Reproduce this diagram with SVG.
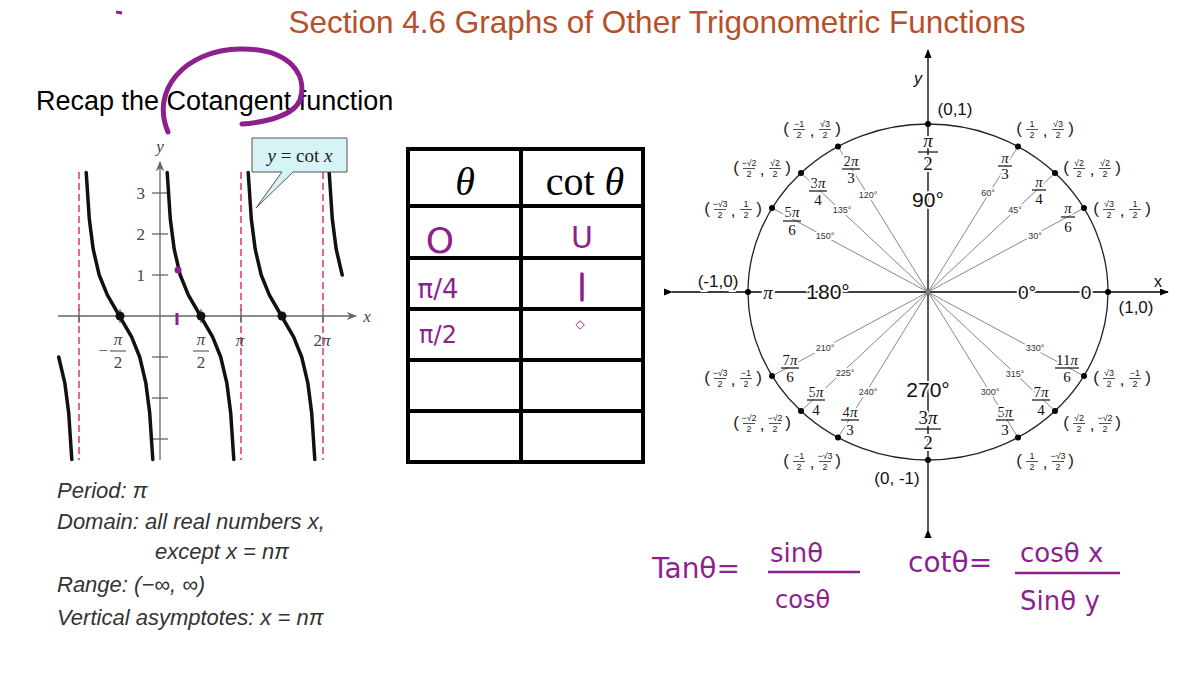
<svg xmlns="http://www.w3.org/2000/svg" width="1190" height="676" viewBox="0 0 1190 676">
<defs>
<marker id="ar" viewBox="0 0 10 10" refX="9" refY="5" markerWidth="7" markerHeight="7" orient="auto"><path d="M0,1 L10,5 L0,9 Z" fill="#000"/></marker>
<marker id="ag" viewBox="0 0 10 10" refX="9" refY="5" markerWidth="8" markerHeight="8" orient="auto"><path d="M0,1 L10,5 L0,9 L3,5 Z" fill="#666"/></marker>
</defs>
<style>
.s{font-family:"Liberation Sans",Arial,sans-serif}
.t{font-family:"Liberation Serif","Times New Roman",serif}
.pu{fill:#8e1f8e;font-family:"DejaVu Sans",sans-serif}
.cur{fill:none;stroke:#111;stroke-width:3.5;stroke-linejoin:round;stroke-linecap:round}
.asy{stroke:#e0307a;stroke-width:1.5;stroke-dasharray:7,4}
.tk{stroke:#666;stroke-width:1.3}
.sp{stroke:#888;stroke-width:1}
.h{paint-order:stroke;stroke:#fff;stroke-width:4}
.tb{stroke:#000;stroke-width:4;fill:none}
.fr{font-family:"Liberation Serif",serif;font-size:19px;text-anchor:middle;fill:#111}
.dg{font-family:"Liberation Sans",sans-serif;font-size:9px;text-anchor:middle;fill:#333}
.it{font-family:"Liberation Sans",sans-serif;font-style:italic;font-size:22px;fill:#333}
.cl text{font-family:"Liberation Sans",sans-serif;text-anchor:middle;fill:#222}
.cl .p{font-size:17px}
.cl .n{font-size:9px}
.cl line{stroke:#222;stroke-width:0.8}
.fb{stroke:#111;stroke-width:1.2}
</style>
<rect width="1190" height="676" fill="#fff"/>
<text class="s" x="657" y="33" font-size="31.5" fill="#b5502a" text-anchor="middle">Section 4.6 Graphs of Other Trigonometric Functions</text>
<path d="M116,12 L122,13" stroke="#8e1f8e" stroke-width="3"/>
<text class="s" x="36" y="110" font-size="27" fill="#000">Recap the Cotangent function</text>
<path d="M168,132 C150,90 185,50 240,49 C290,48 308,75 300,100 C294,115 268,122 242,124" fill="none" stroke="#8e1f8e" stroke-width="5" stroke-linecap="round"/>

<g id="graph">
<line class="asy" x1="79" y1="172" x2="79" y2="460"/>
<line class="asy" x1="241" y1="172" x2="241" y2="460"/>
<line class="asy" x1="323" y1="172" x2="323" y2="460"/>
<line x1="58" y1="316" x2="356" y2="316" stroke="#666" stroke-width="1.3" marker-end="url(#ag)"/>
<line x1="160" y1="460" x2="160" y2="162" stroke="#666" stroke-width="1.3" marker-end="url(#ag)"/>
<g class="tk"><line x1="152" y1="193" x2="168" y2="193"/><line x1="152" y1="234" x2="168" y2="234"/><line x1="152" y1="275" x2="168" y2="275"/><line x1="152" y1="357" x2="168" y2="357"/><line x1="152" y1="398" x2="168" y2="398"/><line x1="152" y1="439" x2="168" y2="439"/>
<line x1="79" y1="309" x2="79" y2="323"/><line x1="120" y1="309" x2="120" y2="323"/><line x1="201" y1="309" x2="201" y2="323"/><line x1="241" y1="309" x2="241" y2="323"/><line x1="323" y1="309" x2="323" y2="323"/></g>
<g class="t" font-size="17" fill="#444">
<text x="145" y="199" text-anchor="end">3</text><text x="145" y="240" text-anchor="end">2</text><text x="145" y="281" text-anchor="end">1</text>
<text x="160" y="152" font-style="italic" text-anchor="middle">y</text><text x="367" y="322" font-style="italic" text-anchor="middle">x</text>
<text x="118" y="345" font-style="italic" text-anchor="middle">π</text><line x1="110" y1="351" x2="126" y2="351" stroke="#444"/><text x="118" y="368" text-anchor="middle">2</text><text x="103" y="356" text-anchor="middle">−</text>
<text x="201" y="345" font-style="italic" text-anchor="middle">π</text><line x1="193" y1="351" x2="209" y2="351" stroke="#444"/><text x="201" y="368" text-anchor="middle">2</text>
<text x="240" y="346" font-style="italic" text-anchor="middle">π</text>
<text x="322" y="346" text-anchor="middle">2<tspan font-style="italic">π</tspan></text>
</g>
<polyline class="cur" points="167.2,172.5 170.3,219 174.2,249.2 180.2,275 188.4,295.1 200.5,316 212.6,336.9 220.7,357 226.8,382.8 230.7,413 233.8,459.5"/>
<polyline class="cur" transform="translate(-81,0)" points="167.2,172.5 170.3,219 174.2,249.2 180.2,275 188.4,295.1 200.5,316 212.6,336.9 220.7,357 226.8,382.8 230.7,413 233.8,459.5"/>
<polyline class="cur" transform="translate(81,0)" points="167.2,172.5 170.3,219 174.2,249.2 180.2,275 188.4,295.1 200.5,316 212.6,336.9 220.7,357 226.8,382.8 230.7,413 233.8,459.5"/>
<polyline class="cur" points="329.2,172.5 332.3,219 336.2,249.2 342.2,275"/>
<polyline class="cur" points="58.7,357 64.8,382.8 68.7,413 71.8,459.5"/>
<circle cx="120" cy="316" r="4.5" fill="#111"/><circle cx="201" cy="316" r="4.5" fill="#111"/><circle cx="282" cy="316" r="4.5" fill="#111"/>
<circle cx="178" cy="270" r="3.5" fill="#8e1f8e"/><line x1="177" y1="313" x2="177" y2="325" stroke="#8e1f8e" stroke-width="3"/>
<path d="M252,138 H347 V172 H293 L256,208 L282,172 H252 Z" fill="#d6f3f6" stroke="#555" stroke-width="1"/>
<text class="t" x="300" y="162" font-size="19" text-anchor="middle" fill="#222"><tspan font-style="italic">y</tspan> = cot <tspan font-style="italic">x</tspan></text>
</g>

<g id="props" class="it">
<text x="57" y="498">Period: π</text>
<text x="57" y="529">Domain:  all real numbers x,</text>
<text x="155" y="559">except x = nπ</text>
<text x="57" y="592">Range:  (−∞, ∞)</text>
<text x="57" y="625">Vertical asymptotes:  x = nπ</text>
</g>

<g id="table">
<rect class="tb" x="408" y="149" width="235" height="313"/>
<line class="tb" x1="521" y1="149" x2="521" y2="462"/>
<line class="tb" x1="408" y1="206" x2="643" y2="206"/>
<line class="tb" x1="408" y1="258" x2="643" y2="258"/>
<line class="tb" x1="408" y1="309" x2="643" y2="309"/>
<line class="tb" x1="408" y1="360" x2="643" y2="360"/>
<line class="tb" x1="408" y1="411" x2="643" y2="411"/>
<text class="t" x="465" y="195" font-size="40" font-style="italic" text-anchor="middle">θ</text>
<text class="t" x="585" y="195" font-size="40" text-anchor="middle">cot <tspan font-style="italic">θ</tspan></text>
<text class="pu" x="440" y="253" font-size="36" text-anchor="middle">O</text>
<text class="pu" x="582" y="248" font-size="30" text-anchor="middle">U</text>
<text class="pu" x="438" y="298" font-size="26" text-anchor="middle">π/4</text>
<line x1="582" y1="274" x2="582" y2="300" stroke="#8e1f8e" stroke-width="3.5" stroke-linecap="round"/>
<text class="pu" x="438" y="343" font-size="24" text-anchor="middle">π/2</text>
<text class="pu" x="580" y="328" font-size="12" text-anchor="middle">◇</text>
</g>

<g id="unitcircle">
<line x1="672" y1="292" x2="1168" y2="292" stroke="#000" stroke-width="1.3" marker-end="url(#ar)" marker-start="url(#ar)"/>
<line x1="928" y1="530" x2="928" y2="50" stroke="#000" stroke-width="1.3" marker-end="url(#ar)" marker-start="url(#ar)"/>
<g class="sp">
<line x1="928" y1="292" x2="1084" y2="208"/><line x1="928" y1="292" x2="1055" y2="173"/><line x1="928" y1="292" x2="1018" y2="146.5"/>
<line x1="928" y1="292" x2="838" y2="146.5"/><line x1="928" y1="292" x2="801" y2="173"/><line x1="928" y1="292" x2="772" y2="208"/>
<line x1="928" y1="292" x2="772" y2="376"/><line x1="928" y1="292" x2="801" y2="411"/><line x1="928" y1="292" x2="838" y2="437.5"/>
<line x1="928" y1="292" x2="1018" y2="437.5"/><line x1="928" y1="292" x2="1055" y2="411"/><line x1="928" y1="292" x2="1084" y2="376"/>
</g>
<ellipse cx="928" cy="292" rx="180" ry="168" fill="none" stroke="#222" stroke-width="1.3"/>
<g fill="#000">
<circle cx="1108" cy="292" r="3"/><circle cx="1084" cy="208" r="3"/><circle cx="1055" cy="173" r="3"/><circle cx="1018" cy="146.5" r="3"/><circle cx="928" cy="124" r="3"/><circle cx="838" cy="146.5" r="3"/><circle cx="801" cy="173" r="3"/><circle cx="772" cy="208" r="3"/><circle cx="748" cy="292" r="3"/><circle cx="772" cy="376" r="3"/><circle cx="801" cy="411" r="3"/><circle cx="838" cy="437.5" r="3"/><circle cx="928" cy="460" r="3"/><circle cx="1018" cy="437.5" r="3"/><circle cx="1055" cy="411" r="3"/><circle cx="1084" cy="376" r="3"/>
</g>
<g class="s h" font-size="17" fill="#111" text-anchor="middle">
<text x="955" y="115">(0,1)</text><text x="718" y="287">(-1,0)</text><text x="1136" y="313">(1,0)</text><text x="897" y="484">(0, -1)</text>
<text x="918" y="84" font-style="italic" font-size="16">y</text><text x="1158" y="287" font-size="16">x</text>
<text x="928" y="207" font-size="21">90°</text><text x="828" y="299" font-size="21">180°</text><text x="1027" y="299" font-size="19">0°</text><text x="1086" y="299" font-size="19">0</text><text x="928" y="397" font-size="21">270°</text>
<text x="768" y="299" font-size="19" font-style="italic" class="t">π</text>
</g>
<g class="fr h">
<text x="928" y="147" font-style="italic">π</text><text x="928" y="170">2</text>
<text x="928" y="424"><tspan>3</tspan><tspan font-style="italic">π</tspan></text><text x="928" y="449">2</text>
<text x="851" y="166" font-size="15">2<tspan font-style="italic">π</tspan></text><text x="851" y="183" font-size="15">3</text>
<text x="818" y="188" font-size="15">3<tspan font-style="italic">π</tspan></text><text x="818" y="205" font-size="15">4</text>
<text x="792" y="217" font-size="15">5<tspan font-style="italic">π</tspan></text><text x="792" y="235" font-size="15">6</text>
<text x="1005" y="163" font-size="15" font-style="italic">π</text><text x="1005" y="179" font-size="15">3</text>
<text x="1039" y="187" font-size="15" font-style="italic">π</text><text x="1039" y="204" font-size="15">4</text>
<text x="1068" y="213" font-size="15" font-style="italic">π</text><text x="1068" y="232" font-size="15">6</text>
<text x="790" y="365" font-size="15">7<tspan font-style="italic">π</tspan></text><text x="790" y="382" font-size="15">6</text>
<text x="816" y="397" font-size="15">5<tspan font-style="italic">π</tspan></text><text x="816" y="415" font-size="15">4</text>
<text x="850" y="417" font-size="15">4<tspan font-style="italic">π</tspan></text><text x="850" y="435" font-size="15">3</text>
<text x="1005" y="417" font-size="15">5<tspan font-style="italic">π</tspan></text><text x="1005" y="435" font-size="15">3</text>
<text x="1041" y="397" font-size="15">7<tspan font-style="italic">π</tspan></text><text x="1041" y="415" font-size="15">4</text>
<text x="1067" y="365" font-size="15">11<tspan font-style="italic">π</tspan></text><text x="1067" y="382" font-size="15">6</text>
</g>
<g class="fb">
<line x1="918" y1="152" x2="938" y2="152"/><line x1="915" y1="429" x2="941" y2="429"/>
<line x1="842" y1="169" x2="860" y2="169"/><line x1="809" y1="191" x2="827" y2="191"/><line x1="783" y1="221" x2="801" y2="221"/>
<line x1="998" y1="166" x2="1012" y2="166"/><line x1="1032" y1="190" x2="1046" y2="190"/><line x1="1061" y1="217" x2="1075" y2="217"/>
<line x1="781" y1="368" x2="799" y2="368"/><line x1="807" y1="400" x2="825" y2="400"/><line x1="841" y1="420" x2="859" y2="420"/>
<line x1="996" y1="420" x2="1014" y2="420"/><line x1="1032" y1="400" x2="1050" y2="400"/><line x1="1055" y1="368" x2="1079" y2="368"/>
</g>
<g class="dg h">
<text x="868" y="198">120°</text><text x="842" y="213">135°</text><text x="825" y="239">150°</text>
<text x="988" y="196">60°</text><text x="1015" y="213">45°</text><text x="1035" y="239">30°</text>
<text x="825" y="351">210°</text><text x="845" y="376">225°</text><text x="868" y="395">240°</text>
<text x="990" y="395">300°</text><text x="1015" y="377">315°</text><text x="1035" y="351">330°</text>
</g>
<g class="cl">
<g transform="translate(812,128)"><text class="p" x="-26" y="6">(</text><text class="n" x="-13" y="-1">−1</text><line x1="-19" y1="1.5" x2="-7" y2="1.5"/><text class="n" x="-13" y="10">2</text><text class="p" x="0" y="8">,</text><text class="n" x="13" y="-1">√3</text><line x1="7" y1="1.5" x2="19" y2="1.5"/><text class="n" x="13" y="10">2</text><text class="p" x="26" y="6">)</text></g>
<g transform="translate(1045,128)"><text class="p" x="-26" y="6">(</text><text class="n" x="-13" y="-1">1</text><line x1="-19" y1="1.5" x2="-7" y2="1.5"/><text class="n" x="-13" y="10">2</text><text class="p" x="0" y="8">,</text><text class="n" x="13" y="-1">√3</text><line x1="7" y1="1.5" x2="19" y2="1.5"/><text class="n" x="13" y="10">2</text><text class="p" x="26" y="6">)</text></g>
<g transform="translate(762,167)"><text class="p" x="-26" y="6">(</text><text class="n" x="-13" y="-1">−√2</text><line x1="-19" y1="1.5" x2="-7" y2="1.5"/><text class="n" x="-13" y="10">2</text><text class="p" x="0" y="8">,</text><text class="n" x="13" y="-1">√2</text><line x1="7" y1="1.5" x2="19" y2="1.5"/><text class="n" x="13" y="10">2</text><text class="p" x="26" y="6">)</text></g>
<g transform="translate(1092,167)"><text class="p" x="-26" y="6">(</text><text class="n" x="-13" y="-1">√2</text><line x1="-19" y1="1.5" x2="-7" y2="1.5"/><text class="n" x="-13" y="10">2</text><text class="p" x="0" y="8">,</text><text class="n" x="13" y="-1">√2</text><line x1="7" y1="1.5" x2="19" y2="1.5"/><text class="n" x="13" y="10">2</text><text class="p" x="26" y="6">)</text></g>
<g transform="translate(733,208)"><text class="p" x="-26" y="6">(</text><text class="n" x="-13" y="-1">−√3</text><line x1="-19" y1="1.5" x2="-7" y2="1.5"/><text class="n" x="-13" y="10">2</text><text class="p" x="0" y="8">,</text><text class="n" x="13" y="-1">1</text><line x1="7" y1="1.5" x2="19" y2="1.5"/><text class="n" x="13" y="10">2</text><text class="p" x="26" y="6">)</text></g>
<g transform="translate(1122,208)"><text class="p" x="-26" y="6">(</text><text class="n" x="-13" y="-1">√3</text><line x1="-19" y1="1.5" x2="-7" y2="1.5"/><text class="n" x="-13" y="10">2</text><text class="p" x="0" y="8">,</text><text class="n" x="13" y="-1">1</text><line x1="7" y1="1.5" x2="19" y2="1.5"/><text class="n" x="13" y="10">2</text><text class="p" x="26" y="6">)</text></g>
<g transform="translate(733,377)"><text class="p" x="-26" y="6">(</text><text class="n" x="-13" y="-1">−√3</text><line x1="-19" y1="1.5" x2="-7" y2="1.5"/><text class="n" x="-13" y="10">2</text><text class="p" x="0" y="8">,</text><text class="n" x="13" y="-1">−1</text><line x1="7" y1="1.5" x2="19" y2="1.5"/><text class="n" x="13" y="10">2</text><text class="p" x="26" y="6">)</text></g>
<g transform="translate(1122,377)"><text class="p" x="-26" y="6">(</text><text class="n" x="-13" y="-1">√3</text><line x1="-19" y1="1.5" x2="-7" y2="1.5"/><text class="n" x="-13" y="10">2</text><text class="p" x="0" y="8">,</text><text class="n" x="13" y="-1">−1</text><line x1="7" y1="1.5" x2="19" y2="1.5"/><text class="n" x="13" y="10">2</text><text class="p" x="26" y="6">)</text></g>
<g transform="translate(762,422)"><text class="p" x="-26" y="6">(</text><text class="n" x="-13" y="-1">−√2</text><line x1="-19" y1="1.5" x2="-7" y2="1.5"/><text class="n" x="-13" y="10">2</text><text class="p" x="0" y="8">,</text><text class="n" x="13" y="-1">−√2</text><line x1="7" y1="1.5" x2="19" y2="1.5"/><text class="n" x="13" y="10">2</text><text class="p" x="26" y="6">)</text></g>
<g transform="translate(1092,422)"><text class="p" x="-26" y="6">(</text><text class="n" x="-13" y="-1">√2</text><line x1="-19" y1="1.5" x2="-7" y2="1.5"/><text class="n" x="-13" y="10">2</text><text class="p" x="0" y="8">,</text><text class="n" x="13" y="-1">−√2</text><line x1="7" y1="1.5" x2="19" y2="1.5"/><text class="n" x="13" y="10">2</text><text class="p" x="26" y="6">)</text></g>
<g transform="translate(812,460)"><text class="p" x="-26" y="6">(</text><text class="n" x="-13" y="-1">−1</text><line x1="-19" y1="1.5" x2="-7" y2="1.5"/><text class="n" x="-13" y="10">2</text><text class="p" x="0" y="8">,</text><text class="n" x="13" y="-1">−√3</text><line x1="7" y1="1.5" x2="19" y2="1.5"/><text class="n" x="13" y="10">2</text><text class="p" x="26" y="6">)</text></g>
<g transform="translate(1045,460)"><text class="p" x="-26" y="6">(</text><text class="n" x="-13" y="-1">1</text><line x1="-19" y1="1.5" x2="-7" y2="1.5"/><text class="n" x="-13" y="10">2</text><text class="p" x="0" y="8">,</text><text class="n" x="13" y="-1">−√3</text><line x1="7" y1="1.5" x2="19" y2="1.5"/><text class="n" x="13" y="10">2</text><text class="p" x="26" y="6">)</text></g>
</g>
</g>

<g id="formulas" class="pu">
<text x="652" y="578" font-size="28">Tanθ=</text>
<text x="770" y="562" font-size="26">sinθ</text>
<line x1="768" y1="572" x2="860" y2="572" stroke="#8e1f8e" stroke-width="2.5"/>
<text x="775" y="608" font-size="24">cosθ</text>
<text x="908" y="572" font-size="28">cotθ=</text>
<text x="1020" y="562" font-size="26">cosθ x</text>
<line x1="1015" y1="573" x2="1120" y2="573" stroke="#8e1f8e" stroke-width="2.5"/>
<text x="1020" y="610" font-size="26">Sinθ y</text>
</g>
</svg>
